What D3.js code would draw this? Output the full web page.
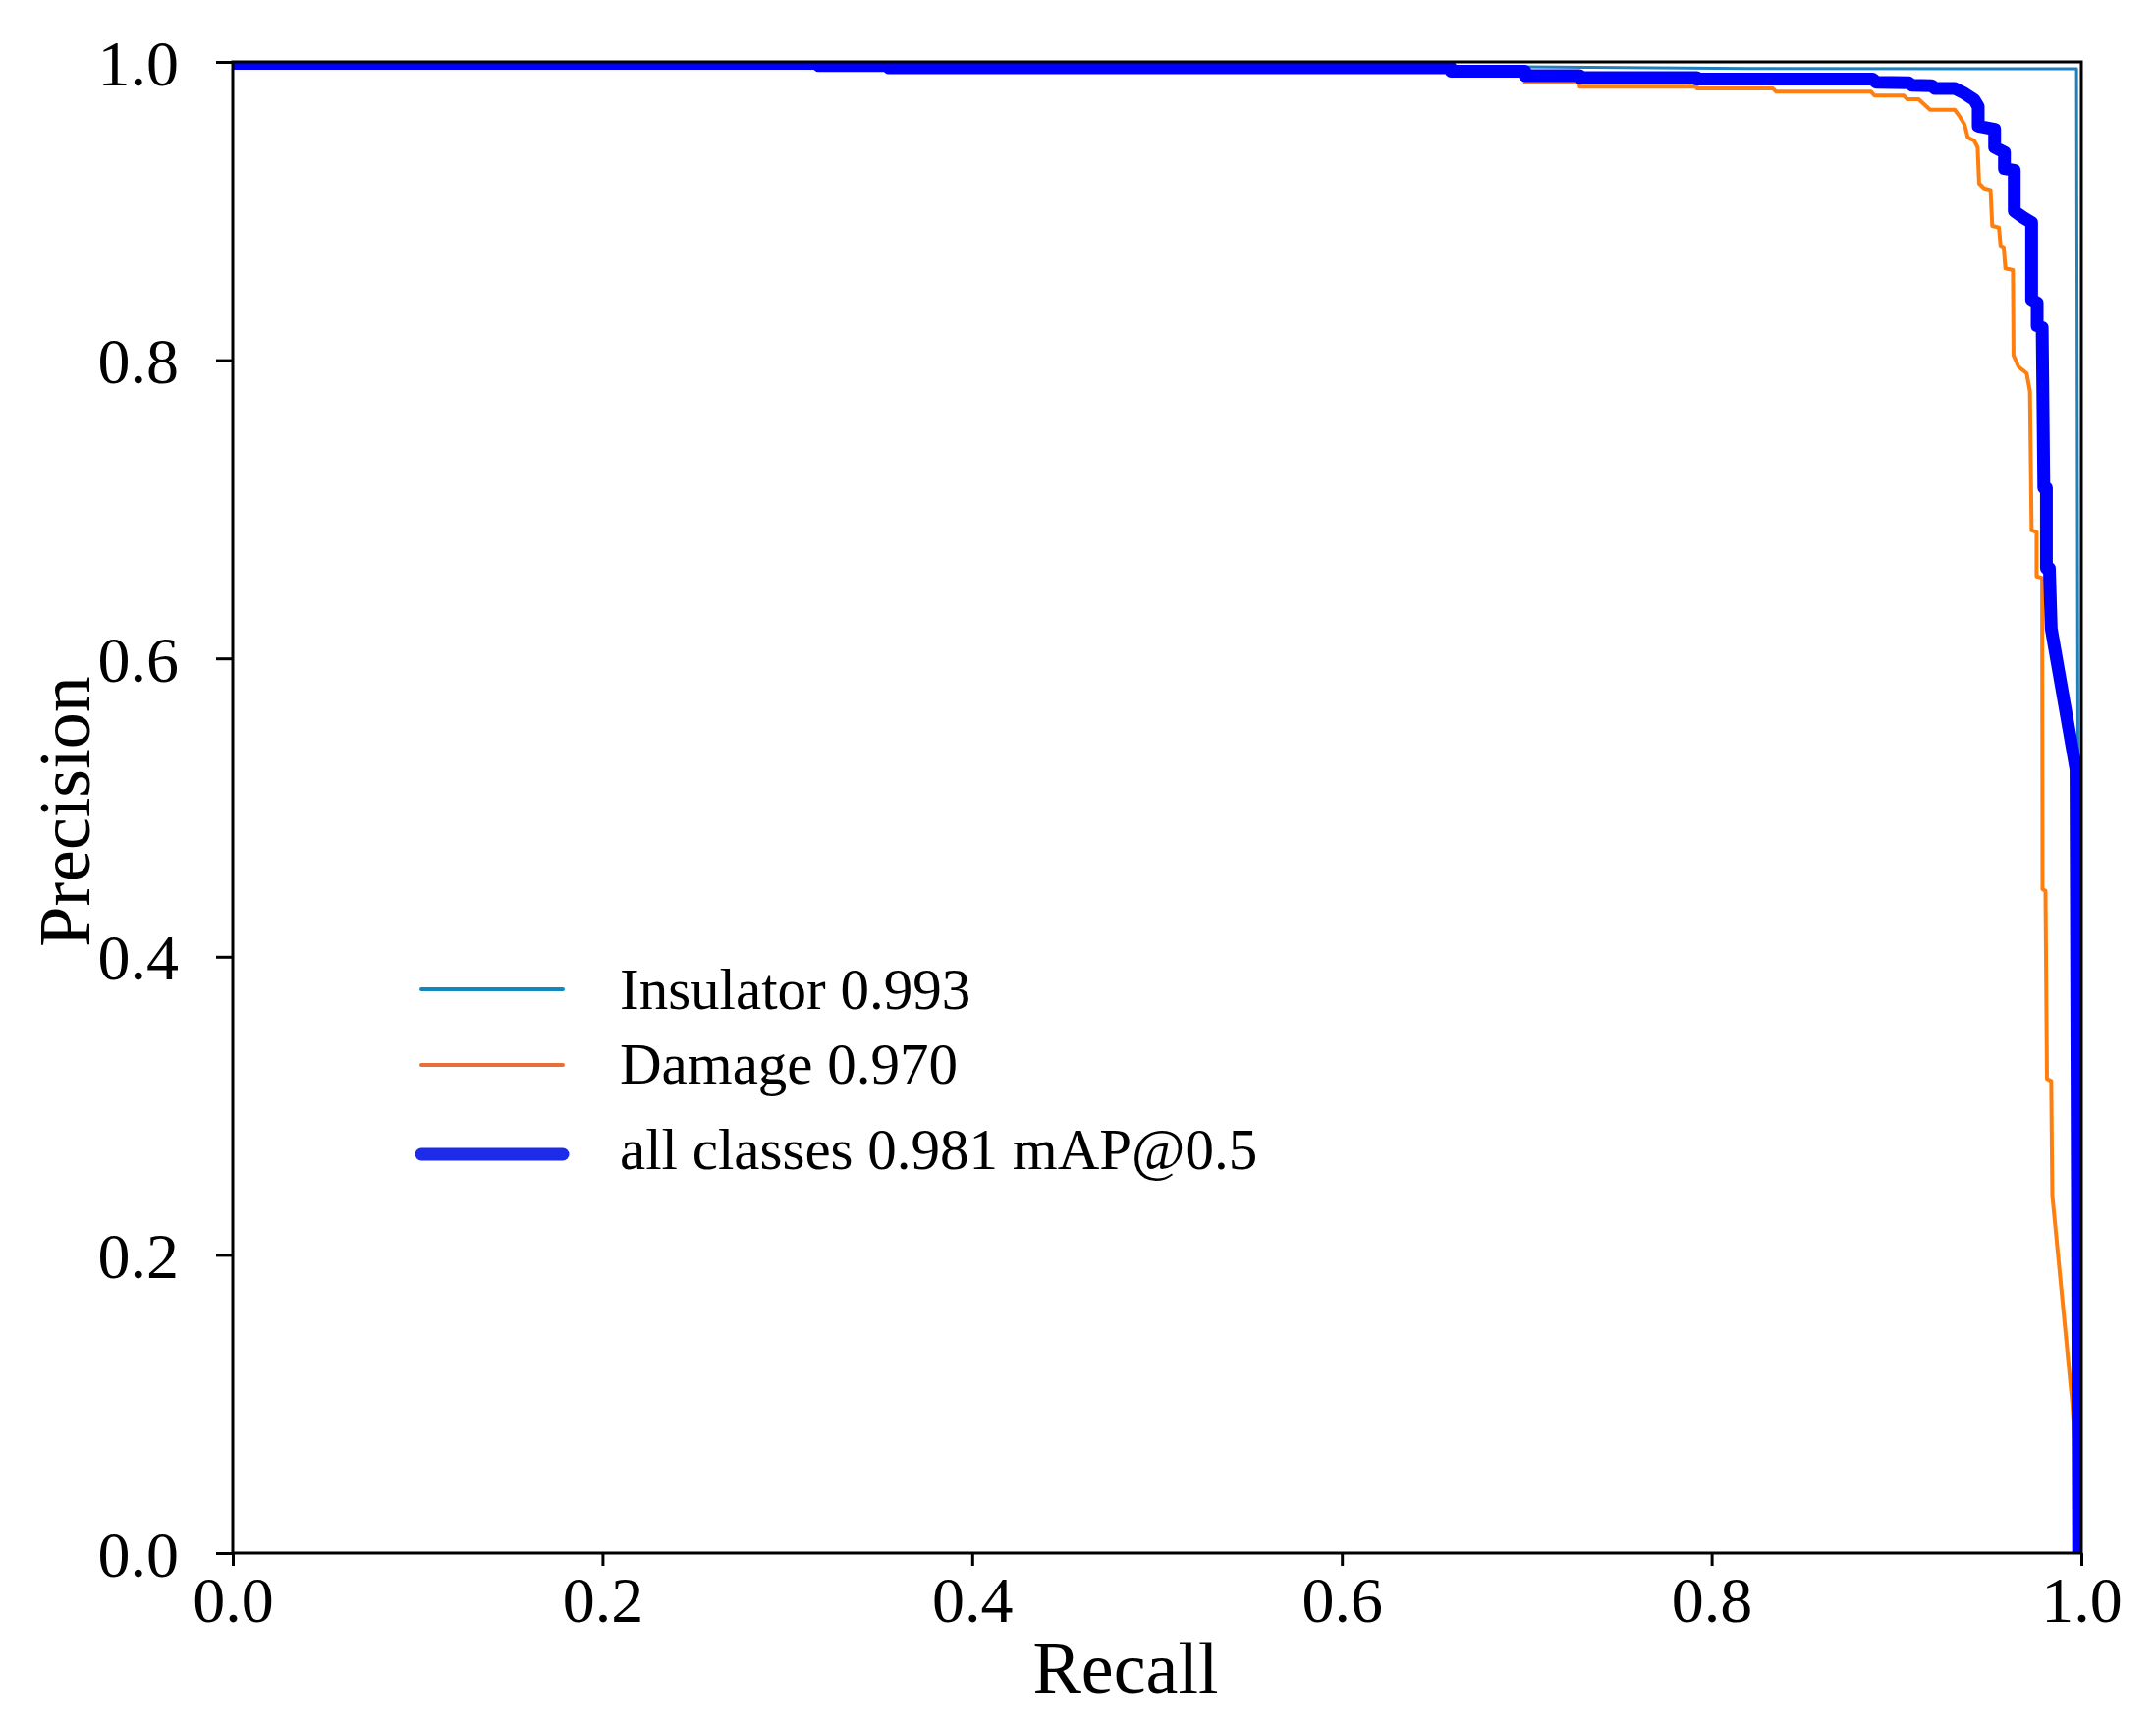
<!DOCTYPE html>
<html>
<head>
<meta charset="utf-8">
<script src="https://cdn.jsdelivr.net/npm/d3@7"></script>
<style>
    body { margin: 0; background: #fff; }
    text { font-family: "Liberation Serif", "Times New Roman", serif; fill: #000; }
</style>
</head>
<body>
<div id="chart"></div>
<script>
// values
const insulatorRecall    = [0, 0.699, 0.82, 0.9974, 0.999];
const insulatorPrecision = [0.998, 0.9967, 0.9955, 0.9954, 0.0];

const damageRecall = [0, 0.317, 0.317, 0.355, 0.355, 0.659, 0.659, 0.699, 0.699, 0.7286,
    0.7286, 0.792, 0.792, 0.8332, 0.8349, 0.8863, 0.8881, 0.9040, 0.9058, 0.9120,
    0.9182, 0.9315, 0.9341, 0.9368, 0.9386, 0.9421, 0.9439, 0.9447, 0.9474, 0.9509,
    0.9518, 0.9554, 0.9563, 0.9580, 0.9589, 0.9630, 0.9633, 0.9660, 0.9704, 0.9722,
    0.9731, 0.9758, 0.9758, 0.9788, 0.9790, 0.9806, 0.9814, 0.9837, 0.9843, 0.9952, 1.0];
const damagePrecision = [1.0, 1.0, 0.998, 0.998, 0.996, 0.996, 0.992, 0.992, 0.9864, 0.9864,
    0.9834, 0.9834, 0.9822, 0.9822, 0.9800, 0.9800, 0.9774, 0.9774, 0.9750, 0.9750,
    0.9679, 0.9679, 0.9635, 0.9580, 0.9493, 0.9471, 0.9427, 0.9185, 0.9152, 0.9141,
    0.8900, 0.8889, 0.8768, 0.8757, 0.8615, 0.8603, 0.8032, 0.7956, 0.7912, 0.7791,
    0.6858, 0.6847, 0.6550, 0.6539, 0.4453, 0.4442, 0.3180, 0.3166, 0.2400, 0.0995, 0.0];

const allRecall = [0, 0.317, 0.317, 0.355, 0.355, 0.659, 0.659, 0.699, 0.699, 0.7286,
    0.7286, 0.792, 0.792, 0.8872, 0.8890, 0.9066, 0.9084, 0.9191, 0.9208, 0.9315,
    0.9368, 0.9421, 0.9442, 0.9442, 0.9531, 0.9531, 0.9584, 0.9584, 0.9637, 0.9637,
    0.9687, 0.9731, 0.9731, 0.9761, 0.9761, 0.9788, 0.9797, 0.9811, 0.9811, 0.9827,
    0.9837, 0.9971, 0.9985];
const allPrecision = [0.999, 0.999, 0.9975, 0.9975, 0.996, 0.996, 0.9938, 0.9938, 0.9908, 0.9908,
    0.9895, 0.9895, 0.9884, 0.9884, 0.9864, 0.9860, 0.9844, 0.9840, 0.9822, 0.9822,
    0.9789, 0.9745, 0.9701, 0.9570, 0.9548, 0.9427, 0.9394, 0.9284, 0.9273, 0.8999,
    0.8955, 0.8922, 0.8406, 0.8384, 0.8230, 0.8219, 0.7143, 0.7143, 0.6605, 0.6605,
    0.6200, 0.5255, 0.0];

const seriesNames   = ['Insulator 0.993', 'Damage 0.970', 'all classes 0.981 mAP@0.5'];
const seriesColours = ['#1f80bb', '#ff7f0e', '#0000ff'];
const legendColours = ['#1188bb', '#e87035', '#1c2ce8'];
const lineWidths    = [3, 4, 13];
const legendWidths  = [4, 4, 13];

const tickValues = [0, 0.2, 0.4, 0.6, 0.8, 1.0];

const W = 2195, H = 1759;
let margin = { top: 63, right: 76, bottom: 178, left: 237 },
    width = W - margin.left - margin.right,
    height = H - margin.top - margin.bottom;

function zip(xs, ys) {
    return xs.map((x, i) => ({ r: x, p: ys[i] }));
}

const series = [
    zip(insulatorRecall, insulatorPrecision),
    zip(damageRecall, damagePrecision),
    zip(allRecall, allPrecision)
];

let svg = d3.select('#chart')
    .append('svg')
    .attr('width', W)
    .attr('height', H)
    .style('background', '#fff');

let g = svg.append('g')
    .attr('transform', `translate(${margin.left},${margin.top})`);

let xScale = d3.scaleLinear().domain([0, 1]).range([0, width]);
let yScale = d3.scaleLinear().domain([0, 1]).range([height, 0]);

svg.append('defs').append('clipPath')
    .attr('id', 'plotClip')
    .append('rect')
    .attr('width', width)
    .attr('height', height);

let line = d3.line()
    .x(d => xScale(d.r))
    .y(d => yScale(d.p));

let lines = g.append('g').attr('clip-path', 'url(#plotClip)');
series.forEach((s, i) => {
    lines.append('path')
        .datum(s)
        .attr('fill', 'none')
        .attr('stroke', seriesColours[i])
        .attr('stroke-width', lineWidths[i])
        .attr('stroke-linejoin', 'round')
        .attr('d', line);
});

// axes
let yAxis = g.append('g')
    .call(d3.axisLeft(yScale).tickValues(tickValues).tickSize(17).tickSizeOuter(0)
        .tickPadding(38).tickFormat(d3.format('.1f')));
let xAxis = g.append('g')
    .attr('transform', `translate(0,${height})`)
    .call(d3.axisBottom(xScale).tickValues(tickValues).tickSize(13).tickSizeOuter(0)
        .tickPadding(10).tickFormat(d3.format('.1f')));

[xAxis, yAxis].forEach(a => {
    a.select('.domain').remove();
    a.selectAll('line').attr('stroke', '#000').attr('stroke-width', 3);
    a.selectAll('text')
        .attr('font-family', '"Liberation Serif", "Times New Roman", serif')
        .attr('font-size', 66)
        .attr('fill', '#000');
});
yAxis.selectAll('text').attr('dy', '0.35em');

// frame on top of the curves
g.append('rect')
    .attr('width', width)
    .attr('height', height)
    .attr('fill', 'none')
    .attr('stroke', '#000')
    .attr('stroke-width', 3);

// axis titles
svg.append('text')
    .attr('transform', 'translate(91,826) rotate(-90)')
    .attr('text-anchor', 'middle')
    .attr('font-size', 74)
    .text('Precision');

svg.append('text')
    .attr('x', 1146)
    .attr('y', 1723)
    .attr('text-anchor', 'middle')
    .attr('font-size', 74)
    .text('Recall');

// legend
const legendLineY = [1007, 1084, 1175];
const legendTextY = [1027, 1103, 1190];
let legend = svg.append('g');
seriesNames.forEach((name, i) => {
    legend.append('line')
        .attr('x1', 429).attr('x2', 573)
        .attr('y1', legendLineY[i]).attr('y2', legendLineY[i])
        .attr('stroke', legendColours[i])
        .attr('stroke-width', legendWidths[i])
        .attr('stroke-linecap', 'round');
    legend.append('text')
        .attr('x', 631)
        .attr('y', legendTextY[i])
        .attr('font-size', 59)
        .text(name);
});
</script>
</body>
</html>
